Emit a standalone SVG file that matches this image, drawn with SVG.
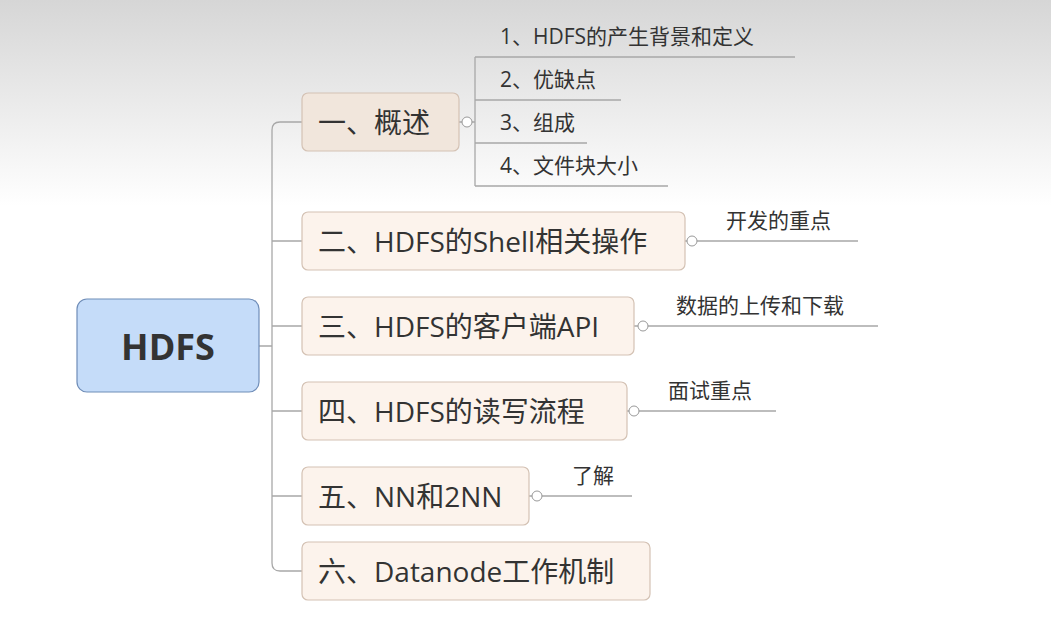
<svg xmlns="http://www.w3.org/2000/svg" width="1051" height="624" viewBox="0 0 1051 624">
<defs>
<linearGradient id="bg" x1="0" y1="0" x2="0" y2="1">
<stop offset="0" stop-color="#d6d6d6"/><stop offset="0.33" stop-color="#ffffff"/><stop offset="1" stop-color="#ffffff"/>
</linearGradient>
<style>
text{font-family:"Open Sans","Noto Sans CJK SC",sans-serif;fill:#333}
.b{fill:#fcf3ec;stroke:#d4c2b4;stroke-width:1.2}
.t{font-size:28px}
.s{font-size:21px}
.l{fill:none;stroke:#a8a8a8;stroke-width:1.3}
.c{fill:#fff;stroke:#999;stroke-width:1}
</style>
</defs>
<rect width="1051" height="624" fill="url(#bg)"/>
<g id="connectors">
<path class="l" d="M259 346H272M302 122H280Q272 122 272 130V563Q272 571 280 571H302M272 241H302M272 326H302M272 411H302M272 496H302"/>
<path class="l" d="M459 122H475M475 57V186M475 57H795M475 100H621M475 143H587M475 186H668"/>
<path class="l" d="M685 241H858M634 326H878M627 411H776M529 496H632"/>
<circle class="c" cx="467" cy="122" r="5"/><circle class="c" cx="692" cy="241" r="5"/><circle class="c" cx="643" cy="326" r="5"/><circle class="c" cx="634" cy="411" r="5"/><circle class="c" cx="537" cy="496" r="5"/>
</g>
<g id="root"><rect x="77" y="299" width="182" height="93" rx="10" fill="#c5dcf9" stroke="#6f8db8" stroke-width="1.2"/><text x="168" y="360" text-anchor="middle" font-size="36" font-weight="bold">HDFS</text></g>
<g id="n1"><rect class="b" x="302" y="93" width="157" height="58" rx="6" style="fill:#f1e6dc"/><text class="t" x="318" y="133">一、概述</text></g>
<g id="n2"><rect class="b" x="302" y="212" width="383" height="58" rx="6"/><text class="t" x="318" y="252">二、HDFS的Shell相关操作</text></g>
<g id="n3"><rect class="b" x="302" y="297" width="332" height="58" rx="6"/><text class="t" x="318" y="337">三、HDFS的客户端API</text></g>
<g id="n4"><rect class="b" x="302" y="382" width="325" height="58" rx="6"/><text class="t" x="318" y="422">四、HDFS的读写流程</text></g>
<g id="n5"><rect class="b" x="302" y="467" width="227" height="58" rx="6"/><text class="t" x="318" y="507">五、NN和2NN</text></g>
<g id="n6"><rect class="b" x="302" y="542" width="348" height="58" rx="6"/><text class="t" x="318" y="582">六、Datanode工作机制</text></g>
<g id="c1"><text class="s" x="500" y="44">1、HDFS的产生背景和定义</text></g>
<g id="c2"><text class="s" x="500" y="87">2、优缺点</text></g>
<g id="c3"><text class="s" x="500" y="130">3、组成</text></g>
<g id="c4"><text class="s" x="500" y="173">4、文件块大小</text></g>
<g id="c5"><text class="s" x="726" y="228">开发的重点</text></g>
<g id="c6"><text class="s" x="676" y="313">数据的上传和下载</text></g>
<g id="c7"><text class="s" x="668" y="398">面试重点</text></g>
<g id="c8"><text class="s" x="572" y="483">了解</text></g>
</svg>
